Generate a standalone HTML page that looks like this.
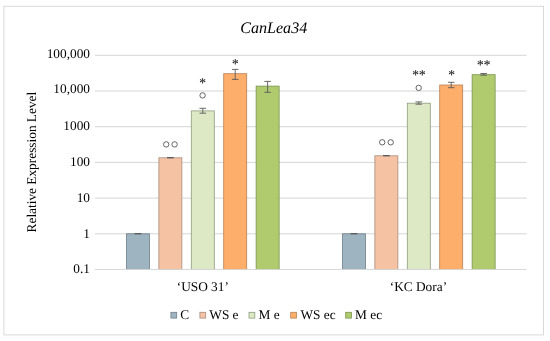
<!DOCTYPE html>
<html><head><meta charset="utf-8"><title>CanLea34</title>
<style>
html,body{margin:0;padding:0;background:#fff;}
body{width:550px;height:341px;overflow:hidden;}
svg{display:block;}
text{text-rendering:geometricPrecision;font-family:"Liberation Serif","Times New Roman",serif;fill:#000;}
</style></head><body>
<svg width="550" height="341" viewBox="0 0 550 341">
<rect x="0" y="0" width="550" height="341" fill="#fff"/>
<rect x="3.9" y="6.3" width="539.6" height="328.6" fill="#fff" stroke="#d9d9d9" stroke-width="1"/>

<line x1="95" y1="55.30" x2="526.6" y2="55.30" stroke="#d6d6d6" stroke-width="1"/>
<line x1="95" y1="91.00" x2="526.6" y2="91.00" stroke="#d6d6d6" stroke-width="1"/>
<line x1="95" y1="126.70" x2="526.6" y2="126.70" stroke="#d6d6d6" stroke-width="1"/>
<line x1="95" y1="162.40" x2="526.6" y2="162.40" stroke="#d6d6d6" stroke-width="1"/>
<line x1="95" y1="198.10" x2="526.6" y2="198.10" stroke="#d6d6d6" stroke-width="1"/>
<line x1="95" y1="233.80" x2="526.6" y2="233.80" stroke="#d6d6d6" stroke-width="1"/>
<line x1="95" y1="269.50" x2="526.6" y2="269.50" stroke="#d6d6d6" stroke-width="1"/>
<text x="90.0" y="57.50" font-size="13.33" text-anchor="end">100,000</text>
<text x="90.0" y="93.20" font-size="13.33" text-anchor="end">10,000</text>
<text x="90.0" y="129.60" font-size="13.33" text-anchor="end">1000</text>
<text x="90.0" y="165.50" font-size="13.33" text-anchor="end">100</text>
<text x="90.0" y="201.80" font-size="13.33" text-anchor="end">10</text>
<text x="90.0" y="237.60" font-size="13.33" text-anchor="end">1</text>
<text x="90.0" y="273.20" font-size="13.33" text-anchor="end">0.1</text>
<rect x="126.45" y="233.80" width="23.0" height="35.70" fill="#9eb5c1" stroke="#6e7f89" stroke-width="0.8"/>
<rect x="158.87" y="157.80" width="23.0" height="111.70" fill="#f5c2a4" stroke="#a88c7c" stroke-width="0.8"/>
<rect x="191.29" y="110.90" width="23.0" height="158.60" fill="#dde9c5" stroke="#8e9c7c" stroke-width="0.8"/>
<rect x="223.71" y="73.70" width="23.0" height="195.80" fill="#fdae6b" stroke="#b98357" stroke-width="0.8"/>
<rect x="256.13" y="86.10" width="23.0" height="183.40" fill="#afcb6e" stroke="#7a944e" stroke-width="0.8"/>
<rect x="342.45" y="233.80" width="23.0" height="35.70" fill="#9eb5c1" stroke="#6e7f89" stroke-width="0.8"/>
<rect x="374.87" y="155.80" width="23.0" height="113.70" fill="#f5c2a4" stroke="#a88c7c" stroke-width="0.8"/>
<rect x="407.29" y="103.20" width="23.0" height="166.30" fill="#dde9c5" stroke="#8e9c7c" stroke-width="0.8"/>
<rect x="439.71" y="85.00" width="23.0" height="184.50" fill="#fdae6b" stroke="#b98357" stroke-width="0.8"/>
<rect x="472.13" y="74.70" width="23.0" height="194.80" fill="#afcb6e" stroke="#7a944e" stroke-width="0.8"/>
<line x1="95" y1="269.50" x2="526.6" y2="269.50" stroke="#d9d9d9" stroke-width="0.9"/>
<path d="M137.95 233.50V233.90M134.65 233.50H141.25M134.65 233.90H141.25" stroke="#5a5a5a" stroke-width="0.9" fill="none"/>
<path d="M170.37 157.50V157.90M167.07 157.50H173.67M167.07 157.90H173.67" stroke="#5a5a5a" stroke-width="0.9" fill="none"/>
<path d="M202.79 108.30V113.20M199.49 108.30H206.09M199.49 113.20H206.09" stroke="#5a5a5a" stroke-width="0.9" fill="none"/>
<path d="M235.21 69.40V79.40M231.91 69.40H238.51M231.91 79.40H238.51" stroke="#5a5a5a" stroke-width="0.9" fill="none"/>
<path d="M267.63 81.40V92.30M264.33 81.40H270.93M264.33 92.30H270.93" stroke="#5a5a5a" stroke-width="0.9" fill="none"/>
<path d="M353.95 233.50V233.90M350.65 233.50H357.25M350.65 233.90H357.25" stroke="#5a5a5a" stroke-width="0.9" fill="none"/>
<path d="M386.37 155.50V155.90M383.07 155.50H389.67M383.07 155.90H389.67" stroke="#5a5a5a" stroke-width="0.9" fill="none"/>
<path d="M418.79 101.90V104.20M415.49 101.90H422.09M415.49 104.20H422.09" stroke="#5a5a5a" stroke-width="0.9" fill="none"/>
<path d="M451.21 82.30V87.70M447.91 82.30H454.51M447.91 87.70H454.51" stroke="#5a5a5a" stroke-width="0.9" fill="none"/>
<path d="M483.63 73.50V75.20M480.33 73.50H486.93M480.33 75.20H486.93" stroke="#5a5a5a" stroke-width="0.9" fill="none"/>
<circle cx="166.2" cy="144.4" r="2.7" fill="#fff" stroke="#555" stroke-width="0.9"/>
<circle cx="174.6" cy="144.4" r="2.7" fill="#fff" stroke="#555" stroke-width="0.9"/>
<circle cx="202.6" cy="95.4" r="2.7" fill="#fff" stroke="#555" stroke-width="0.9"/>
<text x="202.60" y="87.45" font-size="13.33" text-anchor="middle" style="fill:#222;stroke:#222;stroke-width:0.15">*</text>
<text x="235.40" y="67.65" font-size="13.33" text-anchor="middle" style="fill:#222;stroke:#222;stroke-width:0.15">*</text>
<circle cx="382.2" cy="142.3" r="2.7" fill="#fff" stroke="#555" stroke-width="0.9"/>
<circle cx="390.7" cy="142.3" r="2.7" fill="#fff" stroke="#555" stroke-width="0.9"/>
<circle cx="418.7" cy="87.9" r="2.7" fill="#fff" stroke="#555" stroke-width="0.9"/>
<text x="418.90" y="79.25" font-size="13.33" text-anchor="middle" style="fill:#222;stroke:#222;stroke-width:0.15">**</text>
<text x="451.50" y="78.55" font-size="13.33" text-anchor="middle" style="fill:#222;stroke:#222;stroke-width:0.15">*</text>
<text x="483.70" y="68.55" font-size="13.33" text-anchor="middle" style="fill:#222;stroke:#222;stroke-width:0.15">**</text>
<text x="273.7" y="33.3" font-size="16.1" font-style="italic" text-anchor="middle">CanLea34</text>
<text x="202.8" y="290.8" font-size="13.33" text-anchor="middle">‘USO 31’</text>
<text x="418.4" y="290.8" font-size="13.33" text-anchor="middle">‘KC Dora’</text>
<text transform="translate(36.3 162.1) rotate(-90)" font-size="13.33" text-anchor="middle">Relative Expression Level</text>
<rect x="170.9" y="312.3" width="5.8" height="5.8" fill="#9eb5c1" stroke="#6e7f89" stroke-width="0.8"/>
<text x="180.3" y="319.3" font-size="13.33">C</text>
<rect x="199.9" y="312.3" width="5.8" height="5.8" fill="#f5c2a4" stroke="#a88c7c" stroke-width="0.8"/>
<text x="209.3" y="319.3" font-size="13.33">WS e</text>
<rect x="249.0" y="312.3" width="5.8" height="5.8" fill="#dde9c5" stroke="#8e9c7c" stroke-width="0.8"/>
<text x="258.6" y="319.3" font-size="13.33">M e</text>
<rect x="290.7" y="312.3" width="5.8" height="5.8" fill="#fdae6b" stroke="#b98357" stroke-width="0.8"/>
<text x="300.5" y="319.3" font-size="13.33">WS ec</text>
<rect x="345.7" y="312.3" width="5.8" height="5.8" fill="#afcb6e" stroke="#7a944e" stroke-width="0.8"/>
<text x="355.1" y="319.3" font-size="13.33">M ec</text>
</svg></body></html>
